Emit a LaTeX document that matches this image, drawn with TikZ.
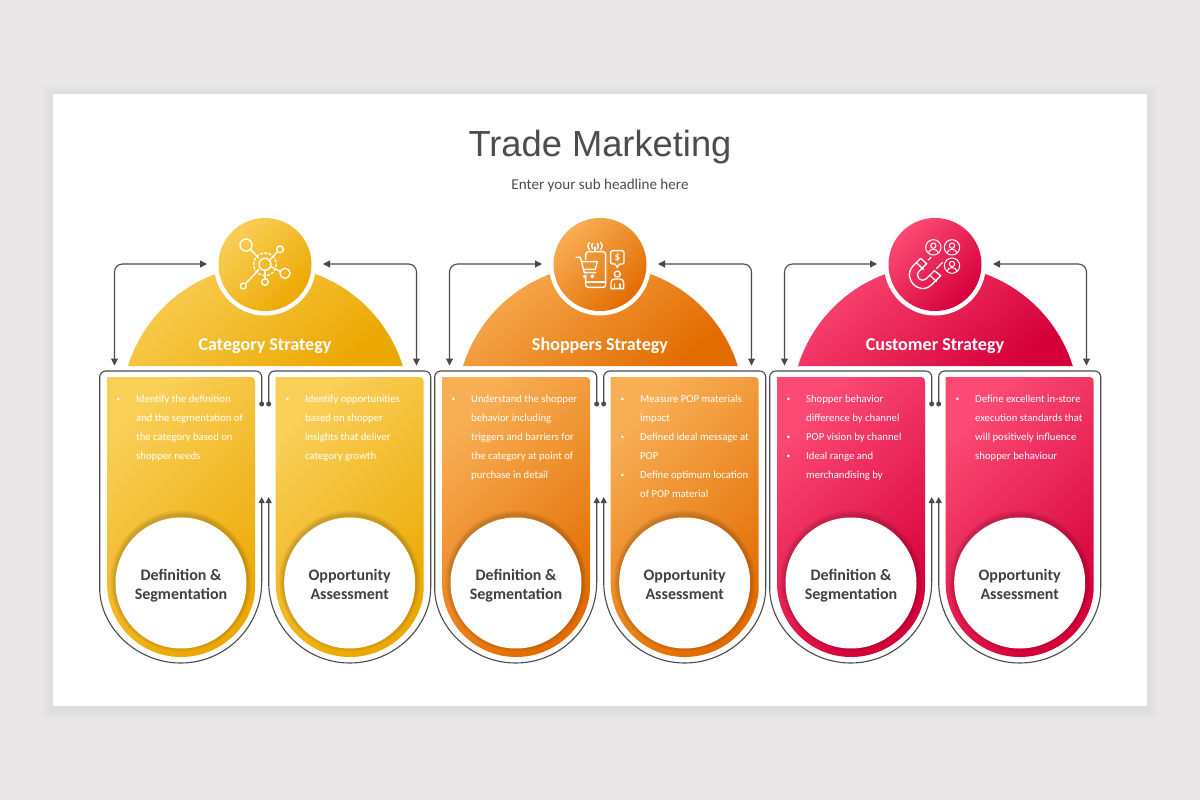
\documentclass[tikz,border=0pt]{standalone}
\usepackage{fontspec}
\setmainfont{Carlito}
\newfontfamily\titlefont{Liberation Sans}
\usetikzlibrary{arrows.meta}
\definecolor{bgc}{HTML}{E9E7E8}
\definecolor{linec}{HTML}{4A4A4A}
\definecolor{inkc}{HTML}{404040}
\definecolor{yl}{HTML}{F9CF58}
\definecolor{yd}{HTML}{ECA802}
\definecolor{ol}{HTML}{F8AE55}
\definecolor{od}{HTML}{E26C00}
\definecolor{rl}{HTML}{FC4A74}
\definecolor{rd}{HTML}{D5003A}
\tikzset{
  x=1pt,y=-1pt,
  conn/.style={draw=linec,line width=1.1pt},
  tipboth/.style={{Triangle[length=7pt,width=7pt]}-{Triangle[length=7pt,width=7pt]}},
  tipsmall/.style={-{Triangle[length=6pt,width=6pt]}},
  jointdot/.style={circle,fill=linec,minimum size=5pt,inner sep=0pt},
  lbl/.style={font=\bfseries\fontsize{16}{19}\selectfont,text=inkc,align=center,inner sep=0pt},
  head/.style={font=\bfseries\fontsize{18.1}{20}\selectfont,text=white,inner sep=0pt,anchor=base},
  body/.style={anchor=north west,inner sep=0pt,align=left,text=white,font=\fontsize{10.7}{19}\selectfont},
  icon/.style={draw=white,line width=1.35pt,line cap=round,line join=round},
}
\newcommand\bl[1]{\makebox[19.5pt][l]{\raisebox{1pt}{\fontsize{7.5}{8}\selectfont •}}#1}
\newcommand\nb[1]{\hspace*{19.5pt}#1}
% halo: stacked translucent strokes
\newcommand\halo[3]{\foreach \w in {2,4,...,#2}{\draw[black,opacity=#3,line width=\w pt] #1;}}
% prefix, centre x, light, dark, side x, other x, arc start, arc end, label
\newcommand\panelcard[9]{%
  \begin{scope}
    \halo{(#2-74,377) -- (#2+74,377) -- (#2+74,583) arc (0:180:74) -- cycle}{10}{.0015}
    \shade[left color=#3,right color=#4,shading angle=45,rounded corners=4]
      (#2-74,377) -- (#2+74,377) -- (#2+74,583) [sharp corners] arc (0:180:74) -- cycle;
    \begin{scope}
      \clip (#2-74,377) -- (#2+74,377) -- (#2+74,583) arc (0:180:74) -- cycle;
      \halo{(#2,581) circle (65.5)}{10}{.035}
    \end{scope}
    \fill[white] (#2,583) circle (65.5);
    \node[jointdot] (#1dot) at (#5,404) {};
    \coordinate (#1end) at (#5,497);
    \draw[conn,tipsmall,rounded corners=6] (#1dot.center) -- (#5,371) -- (#6,371) -- (#6,582)
      [sharp corners] arc (#7:#8:81) -- (#1end);
    \node[lbl] (#1lab) at (#2,586.3) {#9};
  \end{scope}}
% prefix, light, dark, title
\newcommand\stratdome[4]{%
  \halo{(128,366) arc (197.4:342.6:144) -- cycle}{24}{.0015}
  \shade[left color=#2,right color=#3,shading angle=40]
    (128,366) arc (197.4:342.6:144) -- cycle;
  \halo{(265,264.5) circle (51)}{20}{.0015}
  \fill[white] (265,264.5) circle (51);
  \shade[left color=#2,right color=#3,shading angle=45] (265,264.5) circle (46.5);
  \node[circle,minimum size=93pt,inner sep=0pt] (#1hub) at (265,264.5) {};
  \node[head] (#1title) at (265,350) {#4};
  \coordinate (#1la) at (207,264);
  \coordinate (#1lb) at (114.5,365.5);
  \coordinate (#1ra) at (323,264);
  \coordinate (#1rb) at (416.5,365.5);
  \draw[conn,tipboth,rounded corners=8] (#1la) -| (#1lb);
  \draw[conn,tipboth,rounded corners=8] (#1ra) -| (#1rb);}
\newcommand\persona[2]{%
  \draw[icon,line width=1pt] (#1,#2) circle (23);
  \draw[icon,line width=1pt] (#1,#2-5) circle (8);
  \draw[icon,line width=1pt] (#1-14,#2+15) .. controls (#1-12,#2+3) and (#1+12,#2+3) .. (#1+14,#2+15);}
\begin{document}
\begin{tikzpicture}
\useasboundingbox (0,0) rectangle (1200,800);
\fill[bgc] (0,0) rectangle (1200,800);
\halo{(53,96) rectangle (1147,708)}{24}{.0035}
\fill[white] (53,94) rectangle (1147,706);
\node[font=\titlefont\fontsize{36.3}{44}\selectfont,text=black!70,inner sep=0pt] (title) at (600,147) {Trade Marketing};
\node[font=\fontsize{15.1}{18}\selectfont,text=black!70,inner sep=0pt] (sub) at (600,185.5) {Enter your sub headline here};

% ---------- group 1
\begin{scope}
  \stratdome{a}{yl}{yd}{Category Strategy}
  \panelcard{aa}{181}{yl}{yd}{261.7}{99.7}{180}{0}{\strut Definition \&\\Segmentation\strut}
  \panelcard{ab}{349.7}{yl}{yd}{268.7}{430.7}{0}{180}{\strut Opportunity\\Assessment\strut}
\end{scope}
% ---------- group 2
\begin{scope}[xshift=335pt]
  \stratdome{b}{ol}{od}{Shoppers Strategy}
  \panelcard{ba}{181}{ol}{od}{261.7}{99.7}{180}{0}{\strut Definition \&\\Segmentation\strut}
  \panelcard{bb}{349.7}{ol}{od}{268.7}{430.7}{0}{180}{\strut Opportunity\\Assessment\strut}
\end{scope}
% ---------- group 3
\begin{scope}[xshift=670pt]
  \stratdome{c}{rl}{rd}{Customer Strategy}
  \panelcard{ca}{181}{rl}{rd}{261.7}{99.7}{180}{0}{\strut Definition \&\\Segmentation\strut}
  \panelcard{cb}{349.7}{rl}{rd}{268.7}{430.7}{0}{180}{\strut Opportunity\\Assessment\strut}
\end{scope}

% ---------- body texts
\node[body] (t1) at (116.5,394.5) {\bl{Identify the definition}\\\nb{and the segmentation of}\\\nb{the category based on}\\\nb{shopper needs}};
\node[body] (t2) at (285.5,394.5) {\bl{Identify opportunities}\\\nb{based on shopper}\\\nb{insights that deliver}\\\nb{category growth}};
\node[body] (t3) at (451.5,394.5) {\bl{Understand the shopper}\\\nb{behavior including}\\\nb{triggers and barriers for}\\\nb{the category at point of}\\\nb{purchase in detail}};
\node[body] (t4) at (620.5,394.5) {\bl{Measure POP materials}\\\nb{impact}\\\bl{Defined ideal message at}\\\nb{POP}\\\bl{Define optimum location}\\\nb{of POP material}};
\node[body] (t5) at (786.5,394.5) {\bl{Shopper behavior}\\\nb{difference by channel}\\\bl{POP vision by channel}\\\bl{Ideal range and}\\\nb{merchandising by}};
\node[body] (t6) at (955.5,394.5) {\bl{Define excellent in-store}\\\nb{execution standards that}\\\nb{will positively influence}\\\nb{shopper behaviour}};

% ---------- icon 1: network
\begin{scope}[shift={(205,210)},scale=1/3]
  \draw[icon] (180,163) circle (18);
  \draw[icon,dash pattern=on 2.2pt off 2.2pt] (180,163) circle (34);
  \draw[icon] (123,105) circle (18);
  \draw[icon] (225,118) circle (10);
  \draw[icon] (240,190) circle (15);
  \draw[icon] (180,216) circle (10);
  \draw[icon] (115,228) circle (9);
  \draw[icon] (136,118) -- (160,143);
  \draw[icon] (217,126) -- (196,148);
  \draw[icon] (198,170) -- (226,184);
  \draw[icon] (180,181) -- (180,206);
  \draw[icon] (122,221) -- (162,178);
\end{scope}

% ---------- icon 2: shopper
\begin{scope}[shift={(540,210)},scale=1/3]
  \draw[icon] (137,148) -- (137,134) .. controls (137,128) and (140,125) .. (146,125) -- (188,125) .. controls (194,125) and (197,128) .. (197,134) -- (197,224) .. controls (197,230) and (194,232) .. (188,232) -- (146,232) .. controls (140,232) and (137,230) .. (137,224) -- (137,205);
  \draw[icon] (137,216) -- (197,216);
  \draw[icon] (165,125) -- (165,112);
  \draw[icon] (158,100) .. controls (154,106) and (154,110) .. (158,116);
  \draw[icon] (172,100) .. controls (176,106) and (176,110) .. (172,116);
  \draw[icon] (148,98) .. controls (142,106) and (142,110) .. (148,118);
  \draw[icon] (182,98) .. controls (188,106) and (188,110) .. (182,118);
  \draw[icon] (108,142) -- (121,142) -- (133,188) -- (168,188);
  \draw[icon] (124,155) -- (172,155) -- (166,178) -- (130,178);
  \draw[icon] (135,199) circle (4);
  \draw[icon] (157,199) circle (4);
  \draw[icon] (217,122) -- (248,122) .. controls (251,122) and (252,123) .. (252,126) -- (252,158) .. controls (252,161) and (251,162) .. (248,162) -- (239,162) -- (232,172) -- (225,162) -- (217,162) .. controls (214,162) and (212,161) .. (212,158) -- (212,126) .. controls (212,123) and (214,122) .. (217,122) -- cycle;
  \node[inner sep=0pt,text=white,font=\bfseries\fontsize{11}{12}\selectfont] (dollar) at (232,143) {\$};
  \draw[icon] (232,192) circle (9);
  \draw[icon] (213,236) -- (213,218) .. controls (213,210) and (218,207) .. (224,207) -- (240,207) .. controls (246,207) and (251,210) .. (251,218) -- (251,236) -- cycle;
  \draw[icon] (224,222) -- (224,236);
  \draw[icon] (240,222) -- (240,236);
\end{scope}

% ---------- icon 3: magnet
\begin{scope}[shift={(875,210)},scale=1/3]
  \persona{175}{112}
  \persona{231}{112}
  \persona{231}{167}
  \draw[icon] (137,145) -- (115,167) .. controls (94,190) and (105,212) .. (115,223) .. controls (127,235) and (150,244) .. (171,223) -- (197,197) -- (178,182) -- (154,206) .. controls (146,212) and (136,212) .. (132,206) .. controls (126,200) and (126,192) .. (132,184) -- (155,161) -- cycle;
  \draw[icon] (124,158) -- (145,178);
  \draw[icon] (165,196) -- (184,214);
  \draw[icon] (160,150) -- (168,142);
  \draw[icon] (185,175) -- (203,157);
\end{scope}
\end{tikzpicture}
\end{document}
